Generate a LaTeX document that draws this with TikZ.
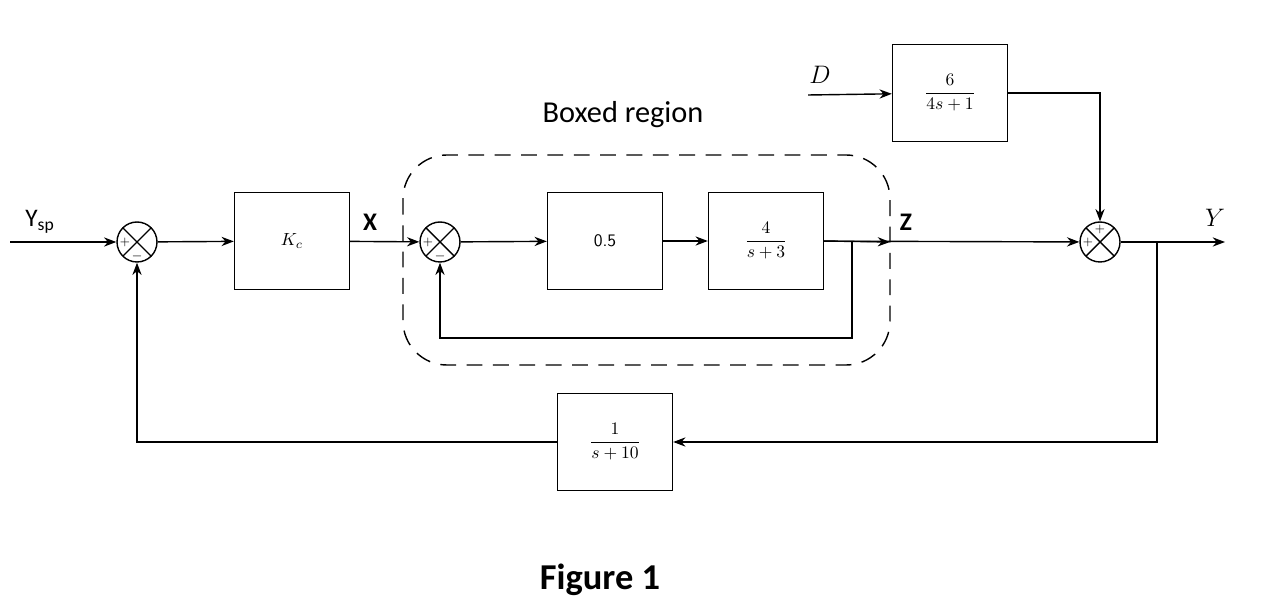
\documentclass[tikz,border=0pt]{standalone}
\usepackage{amsmath}
\usepackage{fontspec}
\setmainfont{Latin Modern Roman}
\newfontfamily\myc{Carlito}
\usetikzlibrary{arrows.meta}
\begin{document}
\begin{tikzpicture}[x=0.02cm,y=-0.02cm,
 blk/.style={draw,thick,minimum width=2.3cm,minimum height=1.95cm,inner sep=0pt},
 sum/.style={draw,thick,circle,minimum size=0.8cm,inner sep=0pt,path picture={\draw[thick] (path picture bounding box.north west)--(path picture bounding box.south east) (path picture bounding box.north east)--(path picture bounding box.south west);}},
 sg/.style={font=\scriptsize\sffamily,inner sep=0pt},
 ar/.style={thick,-{Stealth[length=7pt]}},
 ln/.style={thick}]
\useasboundingbox (0,0) rectangle (1264,614);
\node[sum] (s1) at (137,242) {};
\node[sum] (s2) at (440,242) {};
\node[sum] (s3) at (1100,242) {};
\node[blk] (kc) at (292,241) {$K_c$};
\node[blk] (g1) at (605,241) {\sffamily 0.5};
\node[blk] (g2) at (766,241) {$\dfrac{4}{s+3}$};
\node[blk] (gd) at (950,93) {$\dfrac{6}{4s+1}$};
\node[blk] (h) at (615,442) {$\dfrac{1}{s+10}$};
\draw[thick,dashed,rounded corners=25pt,dash pattern=on 9pt off 6pt] (403,155) rectangle (890,365);
\node[sg] at (125,242) {+}; \node[sg] at (137,256) {$-$};
\node[sg] at (428,242) {+}; \node[sg] at (440,256) {$-$};
\node[sg] at (1088,242) {+}; \node[sg] at (1100,229) {+};
\coordinate (ysp) at (10,242);
\node (lysp) at (40,222) {\myc\Large Y\textsubscript{sp}};
\draw[ar] (ysp) -- (s1);
\draw[ar] (s1) -- (kc);
\draw[ar] (kc) -- (s2);
\node (lx) at (370,222) {\myc\Large\bfseries X};
\draw[ar] (s2) -- (g1);
\draw[ar] (g1) -- (g2);
\draw[ar] (g2) -- (s3);
\draw[thick,-{Stealth[length=7pt]}] (g2.east) -- (890,242);
\node (lz) at (906,222) {\myc\Large\bfseries Z};
\coordinate (y) at (1225,242);
\draw[ar] (s3) -- (y);
\node (ly) at (1215,218) {\Large $Y$};
\coordinate (d) at (808,95);
\node (ld) at (820,75) {\Large $D$};
\draw[ar] (d) -- (gd);
\draw[ar] (gd.east) -| (s3);
\draw[ar] (852,242) -- (852,338) -| (s2);
\draw[ar] (1157,242) |- (h);
\draw[ar] (h) -| (s1);
\node (br) at (623,115) {\myc\LARGE Boxed region};
\node (fig) at (600,580) {\myc\huge\bfseries Figure 1};
\end{tikzpicture}
\end{document}
